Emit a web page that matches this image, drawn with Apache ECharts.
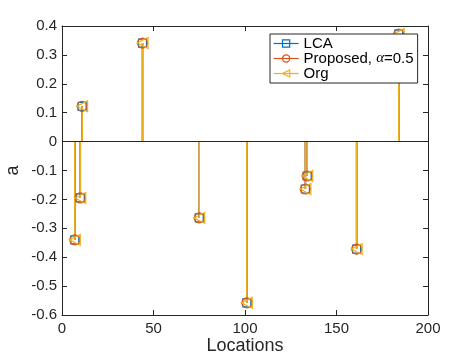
<!DOCTYPE html>
<html><head><meta charset="utf-8">
<script src="https://cdn.jsdelivr.net/npm/echarts@6/dist/echarts.min.js"></script>
<style>html,body{margin:0;padding:0;background:#fff}#c{width:474px;height:355px}</style>
</head><body><div id="c"></div>
<script>
var locations = [7, 10, 11, 44, 75, 101, 133, 134, 161, 184];
var lcaValues = [-0.34, -0.195, 0.122, 0.341, -0.264, -0.558, -0.164, -0.119, -0.372, 0.372];
var proposedValues = [-0.34, -0.195, 0.122, 0.341, -0.264, -0.558, -0.164, -0.119, -0.372, 0.372];
var orgValues = [-0.34, -0.195, 0.122, 0.341, -0.264, -0.558, -0.164, -0.119, -0.372, 0.372];
var xTicks = [0, 50, 100, 150, 200];
var yTicks = [-0.6, -0.5, -0.4, -0.3, -0.2, -0.1, 0, 0.1, 0.2, 0.3, 0.4];

var FONT = "'Liberation Sans', Arial, Helvetica, sans-serif";
var AX = '#262626';
var COLORS = { LCA: '#0072BD', Proposed: '#D95319', Org: '#EDB120' };

function stemData(xs, vs) {
  var d = [];
  for (var i = 0; i < xs.length; i++) {
    d.push({ value: [xs[i], 0], symbol: 'none' });
    d.push({ value: [xs[i], vs[i]] });
    d.push([xs[i], '-']);
  }
  return d;
}

function stemSeries(name, xs, vs, symbol, rot, size) {
  var color = COLORS[name];
  return {
    name: name, type: 'line', data: stemData(xs, vs),
    connectNulls: false, showSymbol: true, showAllSymbol: true,
    symbol: symbol, symbolSize: size, symbolRotate: rot,
    lineStyle: { color: color, width: 1.5 },
    itemStyle: { color: 'rgba(0,0,0,0)', borderColor: color, borderWidth: 1.2 },
    emphasis: { disabled: true }, animation: false
  };
}

var axisCommon = {
  type: 'value',
  axisLine: { show: true, onZero: false, lineStyle: { color: AX, width: 1 } },
  axisTick: { show: true, inside: true, length: 5, lineStyle: { color: AX } },
  splitLine: { show: false }
};

var chart = echarts.init(document.getElementById('c'), null, { renderer: 'canvas' });
var series = [
  stemSeries('LCA', locations, lcaValues, 'rect', 0, 8),
  stemSeries('Proposed', locations, proposedValues, 'circle', 0, 10),
  stemSeries('Org', locations, orgValues, 'triangle', 90, 11)
];
series[0].markLine = {
  silent: true, symbol: ['none', 'none'], label: { show: false },
  lineStyle: { color: AX, width: 1, type: 'solid' },
  data: [{ yAxis: 0 }], animation: false
};

function legendItem(name) {
  return {
    name: name,
    itemStyle: { color: 'rgba(0,0,0,0)', borderColor: COLORS[name], borderWidth: 1.2 },
    lineStyle: { color: COLORS[name], width: 1.2 }
  };
}

chart.setOption({
  animation: false,
  backgroundColor: '#fff',
  grid: { left: 62, right: 46, top: 26, bottom: 40, containLabel: false, outerBoundsMode: 'none' },
  xAxis: [
    Object.assign({}, axisCommon, {
      position: 'bottom', min: xTicks[0], max: xTicks[xTicks.length - 1], interval: 50,
      name: 'Locations', nameLocation: 'middle', nameGap: 22, nameMoveOverlap: false,
      nameTextStyle: { color: AX, fontSize: 18, fontFamily: FONT },
      axisLabel: { color: AX, fontSize: 15, fontFamily: FONT, margin: 6 }
    }),
    Object.assign({}, axisCommon, {
      position: 'top', min: xTicks[0], max: xTicks[xTicks.length - 1], interval: 50,
      axisLabel: { show: false }
    })
  ],
  yAxis: [
    Object.assign({}, axisCommon, {
      position: 'left', min: yTicks[0], max: yTicks[yTicks.length - 1], interval: 0.1,
      name: 'a', nameLocation: 'middle', nameGap: 40, nameRotate: 90, nameMoveOverlap: false,
      nameTextStyle: { color: AX, fontSize: 18, fontFamily: FONT },
      axisLabel: {
        color: AX, fontSize: 15, fontFamily: FONT, margin: 5,
        formatter: function (v) { var r = Math.round(v * 10) / 10; return r === 0 ? '0' : String(r); }
      }
    }),
    Object.assign({}, axisCommon, {
      position: 'right', min: yTicks[0], max: yTicks[yTicks.length - 1], interval: 0.1,
      axisLabel: { show: false }
    })
  ],
  legend: {
    orient: 'vertical', left: 270, top: 34,
    backgroundColor: '#fff', borderColor: AX, borderWidth: 1,
    padding: [2, 4, 2, 3], itemWidth: 25, itemHeight: 9, itemGap: 0,
    data: [legendItem('LCA'), legendItem('Proposed'), legendItem('Org')],
    textStyle: {
      color: '#000', fontSize: 15, fontFamily: FONT, lineHeight: 15,
      rich: {
        n: { fontSize: 15, fontFamily: FONT, color: '#000', lineHeight: 15 },
        i: { fontSize: 15, fontFamily: "'Liberation Serif', 'DejaVu Serif', serif", fontStyle: 'italic', color: '#000', lineHeight: 15 }
      }
    },
    formatter: function (name) {
      if (name === 'Proposed') return '{n|Proposed, }{i|α}{n|=0.5}';
      return '{n|' + name + '}';
    }
  },
  series: series
});
</script></body></html>
